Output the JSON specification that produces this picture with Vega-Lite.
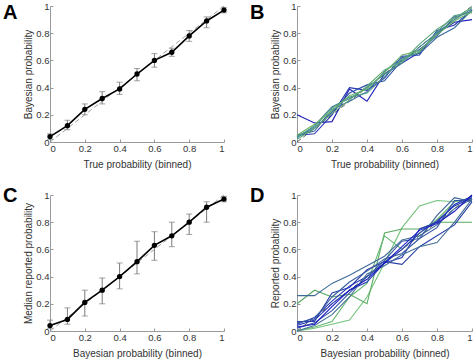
{
  "$schema": "https://vega.github.io/schema/vega-lite/v6.json",
  "padding": {"left": 3, "top": 1, "right": 0, "bottom": 0},
  "columns": 2,
  "bounds": "flush",
  "spacing": {"row": 53, "column": 73},
  "resolve": {"scale": {"color": "independent"}},
  "config": {
    "view": {"stroke": null},
    "font": "Liberation Sans",
    "axis": {
      "grid": false,
      "domainColor": "#9a9a9a",
      "domainWidth": 1,
      "tickColor": "#9a9a9a",
      "tickSize": -3,
      "labelFont": "Liberation Sans",
      "labelFontSize": 9.5,
      "labelColor": "#333333",
      "titleFont": "Liberation Sans",
      "titleFontSize": 10,
      "titleFontWeight": "normal",
      "titleColor": "#333333",
      "values": [0, 0.2, 0.4, 0.6, 0.8, 1],
      "format": "~g"
    },
    "axisY": {"labelPadding": 4, "titlePadding": 2},
    "axisX": {"labelPadding": 4, "titlePadding": 7},
    "title": {
      "anchor": "start",
      "frame": "group",
      "font": "Liberation Sans",
      "fontSize": 20,
      "fontWeight": "bold",
      "color": "#000000",
      "dx": -47,
      "offset": 0,
      "baseline": "alphabetic"
    }
  },
  "datasets": {
    "ident": [{"x": 0, "y": 0}, {"x": 1, "y": 1}],
    "A": [
      {"x": 0.0, "y": 0.04, "lo": 0.02, "hi": 0.06},
      {"x": 0.1, "y": 0.12, "lo": 0.09, "hi": 0.16},
      {"x": 0.2, "y": 0.24, "lo": 0.20, "hi": 0.28},
      {"x": 0.3, "y": 0.32, "lo": 0.28, "hi": 0.37},
      {"x": 0.4, "y": 0.39, "lo": 0.35, "hi": 0.44},
      {"x": 0.5, "y": 0.50, "lo": 0.45, "hi": 0.54},
      {"x": 0.6, "y": 0.60, "lo": 0.55, "hi": 0.65},
      {"x": 0.7, "y": 0.66, "lo": 0.63, "hi": 0.69},
      {"x": 0.8, "y": 0.78, "lo": 0.74, "hi": 0.82},
      {"x": 0.9, "y": 0.89, "lo": 0.84, "hi": 0.92},
      {"x": 1.0, "y": 0.97, "lo": 0.95, "hi": 0.99}
    ],
    "C": [
      {"x": 0.0, "y": 0.04, "lo": 0.02, "hi": 0.08},
      {"x": 0.1, "y": 0.085, "lo": 0.05, "hi": 0.17},
      {"x": 0.2, "y": 0.21, "lo": 0.11, "hi": 0.30},
      {"x": 0.3, "y": 0.30, "lo": 0.20, "hi": 0.39},
      {"x": 0.4, "y": 0.40, "lo": 0.31, "hi": 0.50},
      {"x": 0.5, "y": 0.51, "lo": 0.42, "hi": 0.66},
      {"x": 0.6, "y": 0.63, "lo": 0.52, "hi": 0.73},
      {"x": 0.7, "y": 0.70, "lo": 0.62, "hi": 0.80},
      {"x": 0.8, "y": 0.80, "lo": 0.71, "hi": 0.86},
      {"x": 0.9, "y": 0.91, "lo": 0.80, "hi": 0.95},
      {"x": 1.0, "y": 0.97, "lo": 0.95, "hi": 0.99}
    ],
    "B": [
      {"s": "b1", "x": 0.0, "y": 0.20}, {"s": "b1", "x": 0.1, "y": 0.14}, {"s": "b1", "x": 0.2, "y": 0.15}, {"s": "b1", "x": 0.3, "y": 0.39}, {"s": "b1", "x": 0.4, "y": 0.30}, {"s": "b1", "x": 0.5, "y": 0.50}, {"s": "b1", "x": 0.6, "y": 0.58}, {"s": "b1", "x": 0.7, "y": 0.66}, {"s": "b1", "x": 0.8, "y": 0.80}, {"s": "b1", "x": 0.9, "y": 0.88}, {"s": "b1", "x": 1.0, "y": 0.90},
      {"s": "b2", "x": 0.0, "y": 0.05}, {"s": "b2", "x": 0.1, "y": 0.06}, {"s": "b2", "x": 0.2, "y": 0.20}, {"s": "b2", "x": 0.3, "y": 0.40}, {"s": "b2", "x": 0.4, "y": 0.38}, {"s": "b2", "x": 0.5, "y": 0.47}, {"s": "b2", "x": 0.6, "y": 0.63}, {"s": "b2", "x": 0.7, "y": 0.64}, {"s": "b2", "x": 0.8, "y": 0.82}, {"s": "b2", "x": 0.9, "y": 0.86}, {"s": "b2", "x": 1.0, "y": 0.97},
      {"s": "b3", "x": 0.0, "y": 0.04}, {"s": "b3", "x": 0.1, "y": 0.10}, {"s": "b3", "x": 0.2, "y": 0.22}, {"s": "b3", "x": 0.3, "y": 0.36}, {"s": "b3", "x": 0.4, "y": 0.42}, {"s": "b3", "x": 0.5, "y": 0.45}, {"s": "b3", "x": 0.6, "y": 0.60}, {"s": "b3", "x": 0.7, "y": 0.68}, {"s": "b3", "x": 0.8, "y": 0.78}, {"s": "b3", "x": 0.9, "y": 0.92}, {"s": "b3", "x": 1.0, "y": 0.96},
      {"s": "b4", "x": 0.0, "y": 0.05}, {"s": "b4", "x": 0.1, "y": 0.08}, {"s": "b4", "x": 0.2, "y": 0.24}, {"s": "b4", "x": 0.3, "y": 0.30}, {"s": "b4", "x": 0.4, "y": 0.37}, {"s": "b4", "x": 0.5, "y": 0.52}, {"s": "b4", "x": 0.6, "y": 0.62}, {"s": "b4", "x": 0.7, "y": 0.65}, {"s": "b4", "x": 0.8, "y": 0.77}, {"s": "b4", "x": 0.9, "y": 0.84}, {"s": "b4", "x": 1.0, "y": 0.97},
      {"s": "b5", "x": 0.0, "y": 0.03}, {"s": "b5", "x": 0.1, "y": 0.12}, {"s": "b5", "x": 0.2, "y": 0.26}, {"s": "b5", "x": 0.3, "y": 0.32}, {"s": "b5", "x": 0.4, "y": 0.40}, {"s": "b5", "x": 0.5, "y": 0.50}, {"s": "b5", "x": 0.6, "y": 0.58}, {"s": "b5", "x": 0.7, "y": 0.70}, {"s": "b5", "x": 0.8, "y": 0.80}, {"s": "b5", "x": 0.9, "y": 0.90}, {"s": "b5", "x": 1.0, "y": 0.98},
      {"s": "b6", "x": 0.0, "y": 0.04}, {"s": "b6", "x": 0.1, "y": 0.11}, {"s": "b6", "x": 0.2, "y": 0.25}, {"s": "b6", "x": 0.3, "y": 0.33}, {"s": "b6", "x": 0.4, "y": 0.36}, {"s": "b6", "x": 0.5, "y": 0.48}, {"s": "b6", "x": 0.6, "y": 0.61}, {"s": "b6", "x": 0.7, "y": 0.66}, {"s": "b6", "x": 0.8, "y": 0.81}, {"s": "b6", "x": 0.9, "y": 0.93}, {"s": "b6", "x": 1.0, "y": 0.95},
      {"s": "b7", "x": 0.0, "y": 0.02}, {"s": "b7", "x": 0.1, "y": 0.10}, {"s": "b7", "x": 0.2, "y": 0.21}, {"s": "b7", "x": 0.3, "y": 0.31}, {"s": "b7", "x": 0.4, "y": 0.41}, {"s": "b7", "x": 0.5, "y": 0.53}, {"s": "b7", "x": 0.6, "y": 0.59}, {"s": "b7", "x": 0.7, "y": 0.72}, {"s": "b7", "x": 0.8, "y": 0.83}, {"s": "b7", "x": 0.9, "y": 0.91}, {"s": "b7", "x": 1.0, "y": 0.99},
      {"s": "b8", "x": 0.0, "y": 0.05}, {"s": "b8", "x": 0.1, "y": 0.13}, {"s": "b8", "x": 0.2, "y": 0.23}, {"s": "b8", "x": 0.3, "y": 0.34}, {"s": "b8", "x": 0.4, "y": 0.39}, {"s": "b8", "x": 0.5, "y": 0.51}, {"s": "b8", "x": 0.6, "y": 0.64}, {"s": "b8", "x": 0.7, "y": 0.67}, {"s": "b8", "x": 0.8, "y": 0.79}, {"s": "b8", "x": 0.9, "y": 0.89}, {"s": "b8", "x": 1.0, "y": 0.96}
    ],
    "D": [
      {"s": "d01", "x": 0.0, "y": 0.00}, {"s": "d01", "x": 0.1, "y": 0.02}, {"s": "d01", "x": 0.2, "y": 0.05}, {"s": "d01", "x": 0.3, "y": 0.08}, {"s": "d01", "x": 0.4, "y": 0.25}, {"s": "d01", "x": 0.5, "y": 0.50}, {"s": "d01", "x": 0.6, "y": 0.76}, {"s": "d01", "x": 0.7, "y": 0.92}, {"s": "d01", "x": 0.8, "y": 0.96}, {"s": "d01", "x": 0.9, "y": 0.95}, {"s": "d01", "x": 1.0, "y": 0.98},
      {"s": "d02", "x": 0.0, "y": 0.20}, {"s": "d02", "x": 0.1, "y": 0.30}, {"s": "d02", "x": 0.2, "y": 0.25}, {"s": "d02", "x": 0.3, "y": 0.27}, {"s": "d02", "x": 0.4, "y": 0.20}, {"s": "d02", "x": 0.5, "y": 0.72}, {"s": "d02", "x": 0.6, "y": 0.75}, {"s": "d02", "x": 0.7, "y": 0.75}, {"s": "d02", "x": 0.8, "y": 0.80}, {"s": "d02", "x": 0.9, "y": 0.80}, {"s": "d02", "x": 1.0, "y": 0.80},
      {"s": "d03", "x": 0.0, "y": 0.00}, {"s": "d03", "x": 0.1, "y": 0.03}, {"s": "d03", "x": 0.2, "y": 0.07}, {"s": "d03", "x": 0.3, "y": 0.25}, {"s": "d03", "x": 0.4, "y": 0.35}, {"s": "d03", "x": 0.5, "y": 0.70}, {"s": "d03", "x": 0.6, "y": 0.60}, {"s": "d03", "x": 0.7, "y": 0.72}, {"s": "d03", "x": 0.8, "y": 0.82}, {"s": "d03", "x": 0.9, "y": 0.95}, {"s": "d03", "x": 1.0, "y": 0.97},
      {"s": "d04", "x": 0.0, "y": 0.26}, {"s": "d04", "x": 0.1, "y": 0.26}, {"s": "d04", "x": 0.2, "y": 0.35}, {"s": "d04", "x": 0.3, "y": 0.41}, {"s": "d04", "x": 0.4, "y": 0.48}, {"s": "d04", "x": 0.5, "y": 0.55}, {"s": "d04", "x": 0.6, "y": 0.67}, {"s": "d04", "x": 0.7, "y": 0.70}, {"s": "d04", "x": 0.8, "y": 0.78}, {"s": "d04", "x": 0.9, "y": 0.90}, {"s": "d04", "x": 1.0, "y": 0.97},
      {"s": "d05", "x": 0.0, "y": 0.07}, {"s": "d05", "x": 0.1, "y": 0.07}, {"s": "d05", "x": 0.2, "y": 0.28}, {"s": "d05", "x": 0.3, "y": 0.32}, {"s": "d05", "x": 0.4, "y": 0.45}, {"s": "d05", "x": 0.5, "y": 0.51}, {"s": "d05", "x": 0.6, "y": 0.49}, {"s": "d05", "x": 0.7, "y": 0.62}, {"s": "d05", "x": 0.8, "y": 0.70}, {"s": "d05", "x": 0.9, "y": 0.78}, {"s": "d05", "x": 1.0, "y": 0.95},
      {"s": "d06", "x": 0.0, "y": 0.05}, {"s": "d06", "x": 0.1, "y": 0.10}, {"s": "d06", "x": 0.2, "y": 0.22}, {"s": "d06", "x": 0.3, "y": 0.33}, {"s": "d06", "x": 0.4, "y": 0.40}, {"s": "d06", "x": 0.5, "y": 0.50}, {"s": "d06", "x": 0.6, "y": 0.54}, {"s": "d06", "x": 0.7, "y": 0.75}, {"s": "d06", "x": 0.8, "y": 0.80}, {"s": "d06", "x": 0.9, "y": 0.93}, {"s": "d06", "x": 1.0, "y": 0.99},
      {"s": "d07", "x": 0.0, "y": 0.02}, {"s": "d07", "x": 0.1, "y": 0.06}, {"s": "d07", "x": 0.2, "y": 0.15}, {"s": "d07", "x": 0.3, "y": 0.28}, {"s": "d07", "x": 0.4, "y": 0.40}, {"s": "d07", "x": 0.5, "y": 0.52}, {"s": "d07", "x": 0.6, "y": 0.66}, {"s": "d07", "x": 0.7, "y": 0.68}, {"s": "d07", "x": 0.8, "y": 0.76}, {"s": "d07", "x": 0.9, "y": 0.96}, {"s": "d07", "x": 1.0, "y": 0.96},
      {"s": "d08", "x": 0.0, "y": 0.04}, {"s": "d08", "x": 0.1, "y": 0.08}, {"s": "d08", "x": 0.2, "y": 0.20}, {"s": "d08", "x": 0.3, "y": 0.30}, {"s": "d08", "x": 0.4, "y": 0.36}, {"s": "d08", "x": 0.5, "y": 0.50}, {"s": "d08", "x": 0.6, "y": 0.60}, {"s": "d08", "x": 0.7, "y": 0.72}, {"s": "d08", "x": 0.8, "y": 0.81}, {"s": "d08", "x": 0.9, "y": 0.92}, {"s": "d08", "x": 1.0, "y": 0.98},
      {"s": "d09", "x": 0.0, "y": 0.06}, {"s": "d09", "x": 0.1, "y": 0.09}, {"s": "d09", "x": 0.2, "y": 0.25}, {"s": "d09", "x": 0.3, "y": 0.36}, {"s": "d09", "x": 0.4, "y": 0.44}, {"s": "d09", "x": 0.5, "y": 0.53}, {"s": "d09", "x": 0.6, "y": 0.57}, {"s": "d09", "x": 0.7, "y": 0.68}, {"s": "d09", "x": 0.8, "y": 0.85}, {"s": "d09", "x": 0.9, "y": 0.98}, {"s": "d09", "x": 1.0, "y": 0.95},
      {"s": "d10", "x": 0.0, "y": 0.00}, {"s": "d10", "x": 0.1, "y": 0.04}, {"s": "d10", "x": 0.2, "y": 0.12}, {"s": "d10", "x": 0.3, "y": 0.25}, {"s": "d10", "x": 0.4, "y": 0.42}, {"s": "d10", "x": 0.5, "y": 0.48}, {"s": "d10", "x": 0.6, "y": 0.56}, {"s": "d10", "x": 0.7, "y": 0.62}, {"s": "d10", "x": 0.8, "y": 0.65}, {"s": "d10", "x": 0.9, "y": 0.80}, {"s": "d10", "x": 1.0, "y": 0.97},
      {"s": "d11", "x": 0.0, "y": 0.03}, {"s": "d11", "x": 0.1, "y": 0.05}, {"s": "d11", "x": 0.2, "y": 0.18}, {"s": "d11", "x": 0.3, "y": 0.30}, {"s": "d11", "x": 0.4, "y": 0.38}, {"s": "d11", "x": 0.5, "y": 0.50}, {"s": "d11", "x": 0.6, "y": 0.62}, {"s": "d11", "x": 0.7, "y": 0.74}, {"s": "d11", "x": 0.8, "y": 0.79}, {"s": "d11", "x": 0.9, "y": 0.88}, {"s": "d11", "x": 1.0, "y": 1.00}
    ]
  },
  "concat": [
    {
      "width": 174,
      "height": 136,
      "title": {"text": "A", "dy": 26},
      "encoding": {
        "x": {"field": "x", "type": "quantitative", "scale": {"domain": [0, 1], "nice": false}, "axis": {"title": "True probability (binned)"}},
        "y": {"field": "y", "type": "quantitative", "scale": {"domain": [0, 1], "nice": false}, "axis": {"title": "Bayesian probability"}}
      },
      "layer": [
        {"data": {"name": "ident"}, "mark": {"type": "line", "color": "#8a8a8a", "strokeWidth": 0.8, "strokeDash": [5, 3]}},
        {"data": {"name": "A"}, "mark": {"type": "rule", "color": "#7a7a7a", "strokeWidth": 1}, "encoding": {"y": {"field": "lo", "type": "quantitative", "title": "Bayesian probability"}, "y2": {"field": "hi"}}},
        {"data": {"name": "A"}, "mark": {"type": "tick", "orient": "horizontal", "color": "#7a7a7a", "size": 6, "thickness": 1}, "encoding": {"y": {"field": "lo", "type": "quantitative", "title": "Bayesian probability"}}},
        {"data": {"name": "A"}, "mark": {"type": "tick", "orient": "horizontal", "color": "#7a7a7a", "size": 6, "thickness": 1}, "encoding": {"y": {"field": "hi", "type": "quantitative", "title": "Bayesian probability"}}},
        {"data": {"name": "A"}, "mark": {"type": "line", "color": "#000000", "strokeWidth": 1.6}},
        {"data": {"name": "A"}, "mark": {"type": "circle", "color": "#000000", "size": 28, "opacity": 1}}
      ]
    },
    {
      "width": 175,
      "height": 136,
      "title": {"text": "B", "dy": 26},
      "encoding": {
        "x": {"field": "x", "type": "quantitative", "scale": {"domain": [0, 1], "nice": false}, "axis": {"title": "True probability (binned)"}},
        "y": {"field": "y", "type": "quantitative", "scale": {"domain": [0, 1], "nice": false}, "axis": {"title": "Bayesian probability"}}
      },
      "layer": [
        {"data": {"name": "ident"}, "mark": {"type": "line", "color": "#333333", "strokeWidth": 0.8, "strokeDash": [5, 3]}},
        {"data": {"name": "B"}, "mark": {"type": "line", "strokeWidth": 1.1},
         "encoding": {"color": {"field": "s", "type": "nominal", "legend": null,
           "scale": {"domain": ["b1", "b2", "b3", "b4", "b5", "b6", "b7", "b8"],
                     "range": ["#1c1cb8", "#2433b2", "#2d4fa6", "#3a6a9c", "#408592", "#4c9a86", "#5aa876", "#68b46a"]}}}}
      ]
    },
    {
      "width": 174,
      "height": 136,
      "title": {"text": "C", "dy": 20},
      "encoding": {
        "x": {"field": "x", "type": "quantitative", "scale": {"domain": [0, 1], "nice": false}, "axis": {"title": "Bayesian probability (binned)"}},
        "y": {"field": "y", "type": "quantitative", "scale": {"domain": [0, 1], "nice": false}, "axis": {"title": "Median reported probability"}}
      },
      "layer": [
        {"data": {"name": "ident"}, "mark": {"type": "line", "color": "#8a8a8a", "strokeWidth": 0.8, "strokeDash": [5, 3]}},
        {"data": {"name": "C"}, "mark": {"type": "rule", "color": "#7a7a7a", "strokeWidth": 1}, "encoding": {"y": {"field": "lo", "type": "quantitative", "title": "Median reported probability"}, "y2": {"field": "hi"}}},
        {"data": {"name": "C"}, "mark": {"type": "tick", "orient": "horizontal", "color": "#7a7a7a", "size": 6, "thickness": 1}, "encoding": {"y": {"field": "lo", "type": "quantitative", "title": "Median reported probability"}}},
        {"data": {"name": "C"}, "mark": {"type": "tick", "orient": "horizontal", "color": "#7a7a7a", "size": 6, "thickness": 1}, "encoding": {"y": {"field": "hi", "type": "quantitative", "title": "Median reported probability"}}},
        {"data": {"name": "C"}, "mark": {"type": "line", "color": "#000000", "strokeWidth": 1.6}},
        {"data": {"name": "C"}, "mark": {"type": "circle", "color": "#000000", "size": 28, "opacity": 1}}
      ]
    },
    {
      "width": 175,
      "height": 136,
      "title": {"text": "D", "dy": 20},
      "encoding": {
        "x": {"field": "x", "type": "quantitative", "scale": {"domain": [0, 1], "nice": false}, "axis": {"title": "Bayesian probability (binned)"}},
        "y": {"field": "y", "type": "quantitative", "scale": {"domain": [0, 1], "nice": false}, "axis": {"title": "Reported probability"}}
      },
      "layer": [
        {"data": {"name": "ident"}, "mark": {"type": "line", "color": "#333333", "strokeWidth": 0.8, "strokeDash": [5, 3]}},
        {"data": {"name": "D"}, "mark": {"type": "line", "strokeWidth": 1.1},
         "encoding": {"color": {"field": "s", "type": "nominal", "legend": null,
           "scale": {"domain": ["d01", "d02", "d03", "d04", "d05", "d06", "d07", "d08", "d09", "d10", "d11"],
                     "range": ["#72c27a", "#5aaa62", "#66b872", "#3d6c98", "#2b40a8", "#1f2fb8", "#3152a4", "#2236b2", "#365e9c", "#436f96", "#1a1ac2"]}}}}
      ]
    }
  ]
}
